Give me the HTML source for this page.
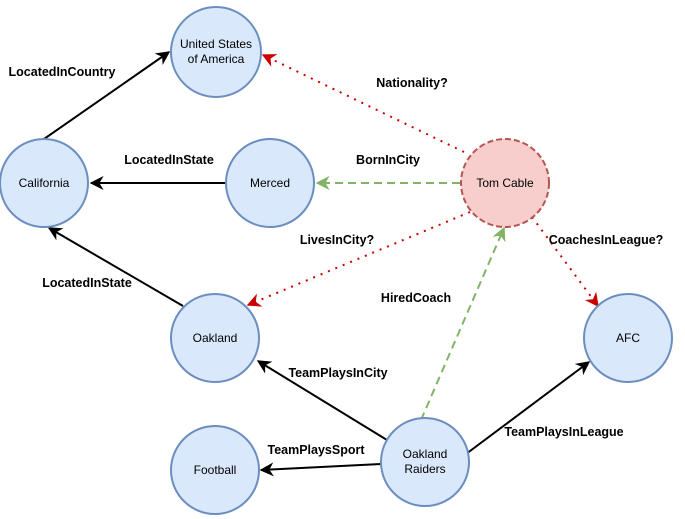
<!DOCTYPE html><html><head><style>body{margin:0;background:#fff}svg{display:block}</style></head><body>
<svg width="685" height="519" viewBox="0 0 685 519" font-family="Liberation Sans, sans-serif">
<defs>
<marker id="ab" viewBox="0 0 10 10" refX="9" refY="5" markerWidth="7" markerHeight="7" orient="auto"><path d="M0,0L10,5L0,10L3,5z" fill="#000"/></marker>
<marker id="ar" viewBox="0 0 10 10" refX="9" refY="5" markerWidth="7" markerHeight="7" orient="auto"><path d="M0,0L10,5L0,10L3,5z" fill="#c00"/></marker>
<marker id="ag" viewBox="0 0 10 10" refX="9" refY="5" markerWidth="7" markerHeight="7" orient="auto"><path d="M0,0L10,5L0,10L3,5z" fill="#82b366"/></marker>
</defs>
<g stroke-width="2" fill="none">
<line x1="44" y1="139" x2="169" y2="52" stroke="#000" marker-end="url(#ab)"/>
<line x1="225" y1="183" x2="91" y2="183" stroke="#000" marker-end="url(#ab)"/>
<line x1="183" y1="306" x2="49" y2="228" stroke="#000" marker-end="url(#ab)"/>
<line x1="387" y1="440" x2="258" y2="361" stroke="#000" marker-end="url(#ab)"/>
<line x1="381" y1="464" x2="261" y2="470" stroke="#000" marker-end="url(#ab)"/>
<line x1="466" y1="454" x2="589" y2="362" stroke="#000" marker-end="url(#ab)"/>
<line x1="464" y1="152" x2="263" y2="55" stroke="#c00" stroke-dasharray="2 6" marker-end="url(#ar)"/>
<line x1="470" y1="212" x2="248" y2="305" stroke="#c00" stroke-dasharray="2 6" marker-end="url(#ar)"/>
<line x1="532" y1="217" x2="598" y2="306" stroke="#c00" stroke-dasharray="2 6" marker-end="url(#ar)"/>
<line x1="460" y1="183" x2="317" y2="183" stroke="#82b366" stroke-dasharray="8 5" marker-end="url(#ag)"/>
<line x1="421" y1="420" x2="504" y2="228" stroke="#82b366" stroke-dasharray="8 5" marker-end="url(#ag)"/>
</g>
<g fill="#dae8fc" stroke="#6c8ebf" stroke-width="2">
<circle cx="216" cy="52" r="45"/><circle cx="44" cy="183" r="44"/><circle cx="270" cy="183" r="44"/>
<circle cx="215" cy="338" r="44"/><circle cx="628" cy="338" r="44"/><circle cx="215" cy="470" r="44"/><circle cx="425" cy="462" r="44"/>
</g>
<circle cx="505" cy="183" r="44" fill="#f8cecc" stroke="#b85450" stroke-width="2" stroke-dasharray="6 3"/>
<g font-size="12" text-anchor="middle" fill="#000">
<text x="216" y="48">United States</text><text x="216" y="63">of America</text>
<text x="44" y="187">California</text><text x="270" y="187">Merced</text><text x="505" y="187">Tom Cable</text>
<text x="215" y="342">Oakland</text><text x="628" y="342">AFC</text><text x="215" y="474">Football</text>
<text x="425" y="458">Oakland</text><text x="425" y="473">Raiders</text>
</g>
<g font-size="12.5" font-weight="bold" text-anchor="middle" fill="#000">
<text x="62" y="76">LocatedInCountry</text><text x="412" y="87">Nationality?</text>
<text x="169" y="164">LocatedInState</text><text x="388" y="164">BornInCity</text>
<text x="337" y="244">LivesInCity?</text><text x="606" y="244">CoachesInLeague?</text>
<text x="87" y="287">LocatedInState</text><text x="416" y="302">HiredCoach</text>
<text x="338" y="377">TeamPlaysInCity</text><text x="316" y="454">TeamPlaysSport</text>
<text x="564" y="436">TeamPlaysInLeague</text>
</g>
</svg></body></html>
